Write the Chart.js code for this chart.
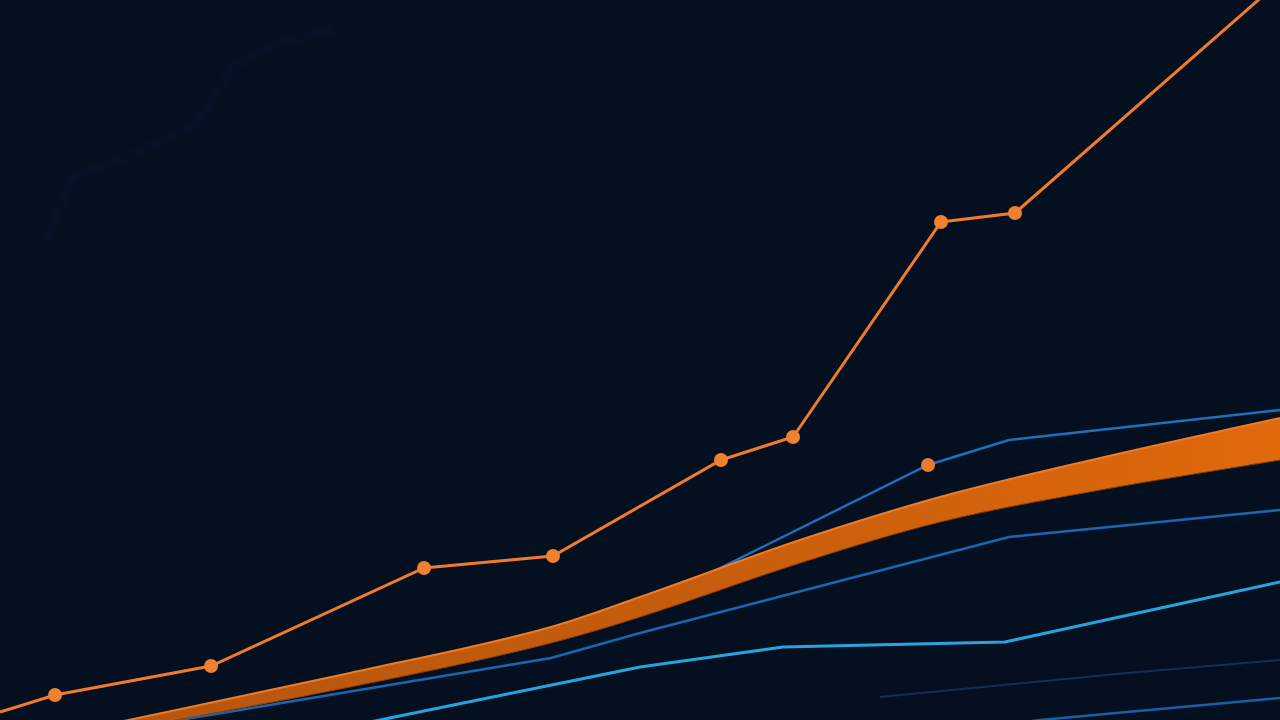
<!DOCTYPE html>
<html>
<head>
<meta charset="utf-8">
<style>
  html, body { margin: 0; padding: 0; background: #04101f; overflow: hidden; }
  #wrap { width: 1280px; height: 720px; }
</style>
<script src="https://cdn.jsdelivr.net/npm/chart.js@4/dist/chart.umd.min.js"></script>
</head>
<body>
<div id="wrap"><canvas id="trendChart" width="1280" height="720"></canvas></div>
<script>
// values (x across, y up from the bottom edge)
const orangeX = [0, 55, 211, 424, 553, 721, 793, 941, 1015, 1280];
const orangeY = [8, 25, 54, 152, 164, 260, 283, 498, 507, 739];
const orangeDots = [0, 1, 1, 1, 1, 1, 1, 1, 1, 0];

const bandX = [100, 350, 551, 640, 800, 940, 1100, 1280];
const bandTop = [-6, 47, 93, 123, 180, 223, 262, 302];
const bandBottom = [-14, 33, 77, 103, 157, 198, 230, 260];

const blueUpperX = [700, 928, 1009, 1280];
const blueUpperY = [142, 255, 280, 310];
const blueMidX = [150, 551, 640, 1009, 1280];
const blueMidY = [-5, 62, 87, 183, 210];
const blueBrightX = [370, 640, 783, 1005, 1280];
const blueBrightY = [-2, 53, 73, 78, 138];
const blueFaintX = [880, 1127, 1280];
const blueFaintY = [23, 47, 60];
const blueLowX = [1000, 1040, 1280];
const blueLowY = [-5, 0, 22];
const ghostX = [43, 73, 127, 197, 233, 277, 333];
const ghostY = [473, 543, 563, 597, 653, 677, 690];

const loneDotX = [928];
const loneDotY = [255];

const pts = (xs, ys) => xs.map((x, i) => ({ x: x, y: ys[i] }));

function bandFill(context) {
    const area = context.chart.chartArea;
    if (!area) return '#cf5f0b';
    const g = context.chart.ctx.createLinearGradient(area.left, 0, area.right, 0);
    g.addColorStop(0, '#b4540f');
    g.addColorStop(0.5, '#c45c0d');
    g.addColorStop(1, '#e0690b');
    return g;
}

document.addEventListener("DOMContentLoaded", function () {
    const ctx = document.getElementById('trendChart');
    new Chart(ctx, {
        type: 'line',
        data: {
            datasets: [
                {
                    data: pts(orangeX, orangeY),
                    borderColor: '#f07b2c',
                    borderWidth: 3,
                    pointRadius: orangeDots.map(d => d ? 7 : 0),
                    pointBackgroundColor: '#f2812f',
                    pointBorderWidth: 0,
                    tension: 0,
                    order: 0
                },
                {
                    data: pts(loneDotX, loneDotY),
                    showLine: false,
                    pointRadius: 7,
                    pointBackgroundColor: '#ec7a2c',
                    pointBorderWidth: 0,
                    order: 0
                },
                {
                    data: pts(bandX, bandBottom),
                    borderColor: '#8e4108',
                    borderWidth: 1,
                    pointRadius: 0,
                    cubicInterpolationMode: 'monotone',
                    fill: false,
                    order: 1
                },
                {
                    data: pts(bandX, bandTop),
                    borderColor: '#ec7c2a',
                    borderWidth: 2,
                    pointRadius: 0,
                    cubicInterpolationMode: 'monotone',
                    fill: '-1',
                    backgroundColor: bandFill,
                    order: 1
                },
                {
                    data: pts(blueUpperX, blueUpperY),
                    borderColor: '#1f6fbd',
                    borderWidth: 2.5,
                    pointRadius: 0,
                    order: 3
                },
                {
                    data: pts(blueMidX, blueMidY),
                    borderColor: '#1a66b0',
                    borderWidth: 2.5,
                    pointRadius: 0,
                    order: 3
                },
                {
                    data: pts(blueBrightX, blueBrightY),
                    borderColor: '#27a4e0',
                    borderWidth: 3,
                    pointRadius: 0,
                    order: 2
                },
                {
                    data: pts(blueFaintX, blueFaintY),
                    borderColor: 'rgba(45,85,140,0.45)',
                    borderWidth: 2,
                    pointRadius: 0,
                    order: 4
                },
                {
                    data: pts(blueLowX, blueLowY),
                    borderColor: '#1a5ea6',
                    borderWidth: 2.5,
                    pointRadius: 0,
                    order: 4
                },
                {
                    data: pts(ghostX, ghostY),
                    borderColor: 'rgba(15,30,90,0.12)',
                    borderWidth: 9,
                    pointRadius: 0,
                    order: 5
                }
            ]
        },
        options: {
            responsive: false,
            animation: false,
            devicePixelRatio: 1,
            layout: { padding: 0, autoPadding: false },
            plugins: {
                legend: { display: false },
                tooltip: { enabled: false }
            },
            scales: {
                x: { type: 'linear', min: 0, max: 1280, display: false },
                y: { min: 0, max: 720, display: false }
            }
        }
    });
});
</script>
</body>
</html>
